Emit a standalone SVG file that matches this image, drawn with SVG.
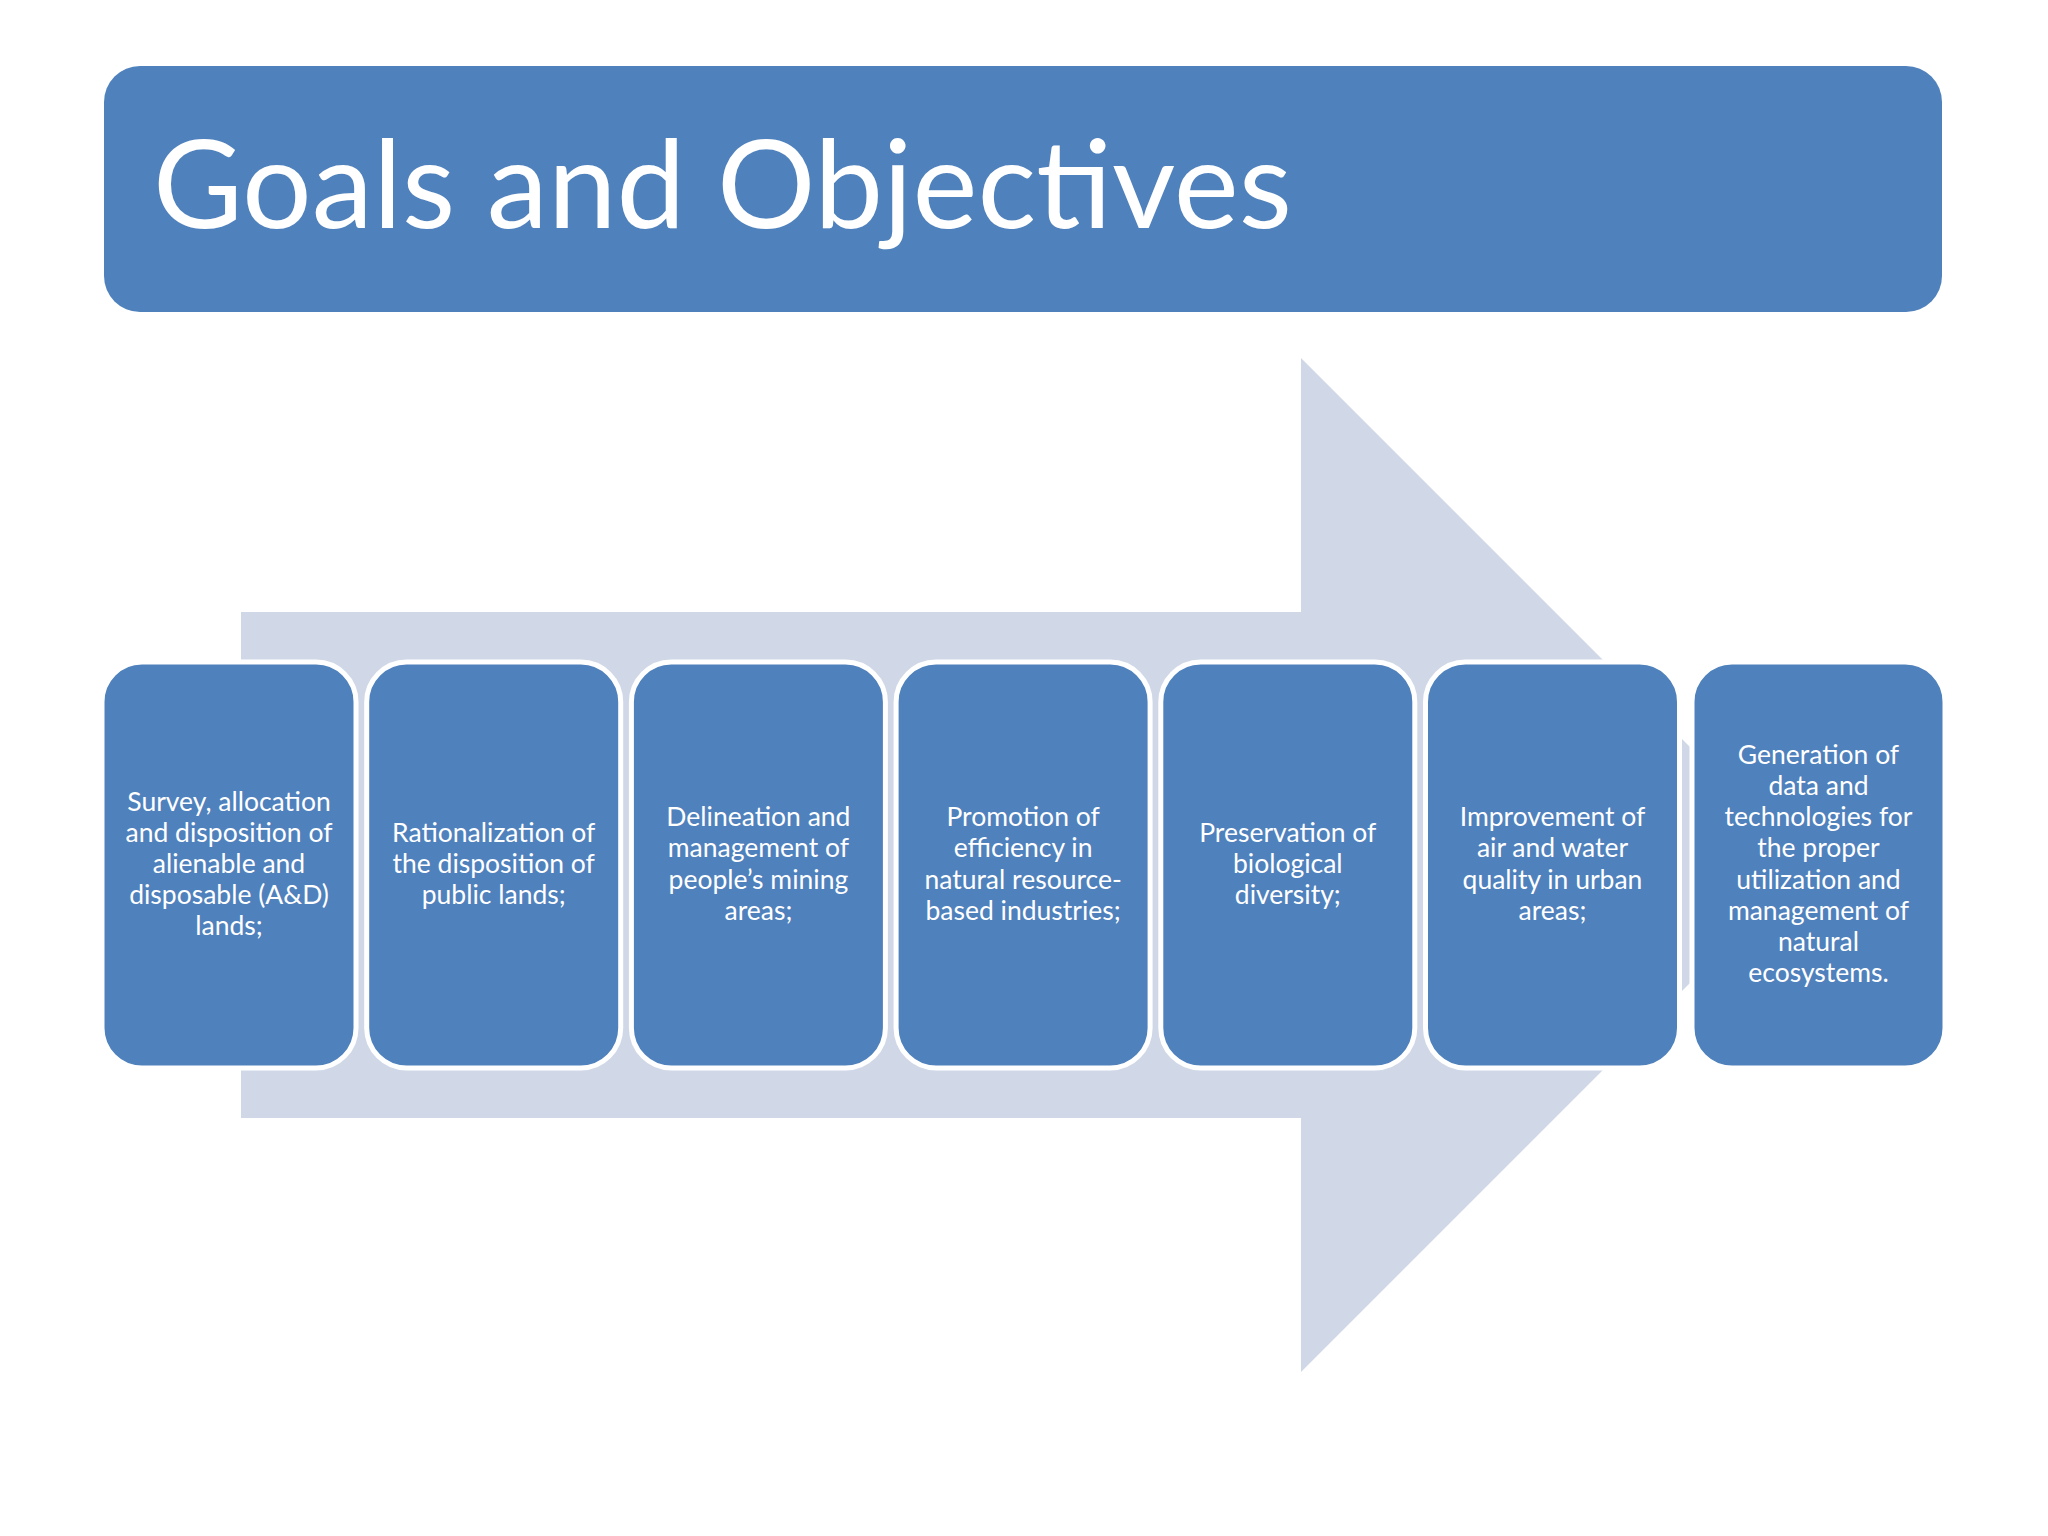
<svg xmlns="http://www.w3.org/2000/svg" width="2048" height="1536" viewBox="0 0 2048 1536">
<defs>
<style>
.box{fill:#4F81BD;stroke:#FFFFFF;stroke-width:5}
.t{font-family:Lato,"Open Sans","Liberation Sans",sans-serif;font-size:26.5px;fill:#FFFFFF;text-anchor:middle}
.title{font-family:Lato,"Open Sans","Liberation Sans",sans-serif;font-size:123px;fill:#FFFFFF}
</style>
</defs>
<rect x="0" y="0" width="2048" height="1536" fill="#FFFFFF"/>
<g id="title">
<rect x="104" y="66" width="1838" height="246" rx="36" ry="36" fill="#4F81BD"/>
<text class="title" x="153" y="228">Goals and Objectives</text>
</g>
<g id="arrow">
<polygon points="241,612 1301,612 1301,358 1808,865 1301,1372 1301,1118 241,1118" fill="#D0D8E8"/>
</g>
<g id="box1">
<rect class="box" x="102" y="662" width="254" height="406" rx="40" ry="40"/>
<text class="t"><tspan x="229" y="810.6">Survey, allocation</tspan><tspan x="229" y="841.8">and disposition of</tspan><tspan x="229" y="873">alienable and</tspan><tspan x="229" y="904.2">disposable (A&amp;D)</tspan><tspan x="229" y="935.4">lands;</tspan></text>
</g>
<g id="box2">
<rect class="box" x="366.7" y="662" width="254" height="406" rx="40" ry="40"/>
<text class="t"><tspan x="493.7" y="841.8">Rationalization of</tspan><tspan x="493.7" y="873">the disposition of</tspan><tspan x="493.7" y="904.2">public lands;</tspan></text>
</g>
<g id="box3">
<rect class="box" x="631.4" y="662" width="254" height="406" rx="40" ry="40"/>
<text class="t"><tspan x="758.4" y="826.2">Delineation and</tspan><tspan x="758.4" y="857.4">management of</tspan><tspan x="758.4" y="888.6">people’s mining</tspan><tspan x="758.4" y="919.8">areas;</tspan></text>
</g>
<g id="box4">
<rect class="box" x="896.1" y="662" width="254" height="406" rx="40" ry="40"/>
<text class="t"><tspan x="1023.1" y="826.2">Promotion of</tspan><tspan x="1023.1" y="857.4">efficiency in</tspan><tspan x="1023.1" y="888.6">natural resource-</tspan><tspan x="1023.1" y="919.8">based industries;</tspan></text>
</g>
<g id="box5">
<rect class="box" x="1160.8" y="662" width="254" height="406" rx="40" ry="40"/>
<text class="t"><tspan x="1287.8" y="841.8">Preservation of</tspan><tspan x="1287.8" y="873">biological</tspan><tspan x="1287.8" y="904.2">diversity;</tspan></text>
</g>
<g id="box6">
<rect class="box" x="1425.5" y="662" width="254" height="406" rx="40" ry="40"/>
<text class="t"><tspan x="1552.5" y="826.2">Improvement of</tspan><tspan x="1552.5" y="857.4">air and water</tspan><tspan x="1552.5" y="888.6">quality in urban</tspan><tspan x="1552.5" y="919.8">areas;</tspan></text>
</g>
<g id="box7">
<rect class="box" x="1692" y="662" width="253" height="406" rx="40" ry="40"/>
<text class="t"><tspan x="1818.5" y="763.8">Generation of</tspan><tspan x="1818.5" y="795">data and</tspan><tspan x="1818.5" y="826.2">technologies for</tspan><tspan x="1818.5" y="857.4">the proper</tspan><tspan x="1818.5" y="888.6">utilization and</tspan><tspan x="1818.5" y="919.8">management of</tspan><tspan x="1818.5" y="951">natural</tspan><tspan x="1818.5" y="982.2">ecosystems.</tspan></text>
</g>
<g id="connectors"></g>
</svg>
